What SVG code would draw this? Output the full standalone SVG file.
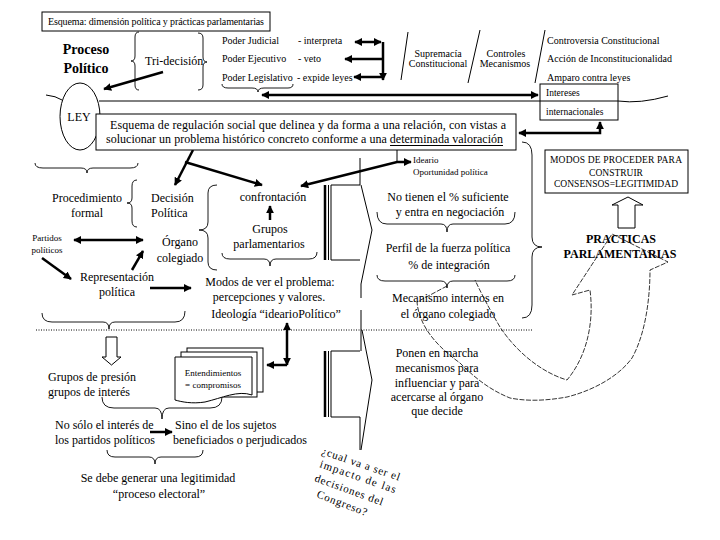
<svg xmlns="http://www.w3.org/2000/svg" width="720" height="540" viewBox="0 0 720 540">
<defs>
<style>
.f{font-family:'Liberation Serif','Times New Roman',serif}
text{fill:#000}
.s9{font-size:9px}.s95{font-size:9.5px}.s10{font-size:10px}.s11{font-size:11px}.s12{font-size:12px}.s14{font-size:14px}.b{font-weight:bold}
.m{text-anchor:middle}
.ln{fill:none;stroke:#000;stroke-width:1}
.br{fill:none;stroke:#000;stroke-width:0.9}
.th{fill:none;stroke:#000;stroke-width:2.5}
.bx{fill:#fff;stroke:#000;stroke-width:1}
.dash{fill:none;stroke:#000;stroke-width:0.8;stroke-dasharray:5 1.5}
.dot{fill:none;stroke:#000;stroke-width:1;stroke-dasharray:1 1.5}
</style>
<marker id="ah" viewBox="0 0 10 10" refX="9" refY="5" markerWidth="3.2" markerHeight="3.2" orient="auto-start-reverse"><path d="M0,0 L10,5 L0,10 z" fill="#000"/></marker>
</defs>
<rect width="720" height="540" fill="#fff"/>

<g id="braces">
<path class="br" d="M139,32 Q135,32 135,37 V56 Q135,61 131,61 Q135,61 135,66 V85 Q135,90 139,90"/>
<path class="br" d="M198,33 Q203,33 203,38 V57 Q203,62 207,62 Q203,62 203,67 V85 Q203,90 198,90"/>
<path class="br" d="M222,84 Q222,88 228,88 H252 Q258,88 258,92 Q258,88 264,88 H288 Q293,88 293,84"/>
<path class="br" d="M35,163 Q35,168 43,168 H81 Q87,168 87,173 Q87,168 93,168 H130 Q138,168 138,163"/>
<path class="br" d="M137,180 Q132,180 132,186 V198 Q132,203 127,203 Q132,203 132,208 V221 Q132,227 137,227"/>
<path class="br" d="M217,185 Q208,185 208,193 V222 Q208,230 199,230 Q208,230 208,238 V262 Q208,270 217,270"/>
<path class="br" d="M42,313 Q42,322 52,322 H103 Q109,322 109,329 Q109,322 115,322 H175 Q185,322 185,311"/>
<path class="br" d="M222,253 Q222,259 230,259 H264 Q270,259 270,266 Q270,259 276,259 H309 Q317,259 317,252"/>
<path class="br" d="M377,212 Q377,224 387,224 H441 Q447,224 447,232 Q447,224 453,224 H505 Q515,224 515,212"/>
<path class="br" d="M377,275 Q377,281 385,281 H441 Q447,281 447,288 Q447,281 453,281 H507 Q515,281 515,275"/>
<path class="br" d="M522,142 Q532,142 532,155 V237 Q532,247 542,247 Q532,247 532,257 V305 Q532,318 522,318"/>
<path class="br" d="M102,397 Q102,408 114,408 H155 Q162,408 162,419 Q162,408 169,408 H210 Q222,408 222,397"/>
<path class="br" d="M107,450 Q107,457 115,457 H149 Q155,457 155,464 Q155,457 161,457 H195 Q203,457 203,450"/>
</g>

<g id="lines">
<path class="ln" d="M46,95 Q56,96 62,100"/>
<path class="ln" d="M99,101 H540"/>
<path class="ln" d="M618,101 Q640,104 668,96"/>
<path class="ln" d="M408,32 L401,80"/>
<path class="ln" d="M480,30 L468,83"/>
<path class="ln" d="M545,30 L535,83"/>
<path class="ln" d="M397,150 V162"/>
<path class="ln" d="M360,158 V185 M361,185 L372,230 L361,284 V298 M361,310 V351 M362,330 L372,380 L361,450 M360,417 V450"/>
<path class="dot" d="M36,330 H533"/>
<path class="dash" d="M447,286 L417,302 C419,325 435,345 460,363 C475,378 490,390 510,398 C530,402 550,400 567,397 C595,390 620,375 632,358 C645,335 650,300 650,270 L668,262 L612,234 L572,295 L590,290 C594,320 588,355 567,380 C540,372 515,350 500,327 C490,310 482,295 475,280"/>
</g>

<g id="connectors">
<path class="th" d="M163,72 L104,89" marker-end="url(#ah)"/>
<path class="th" d="M262,95 H538" marker-start="url(#ah)" marker-end="url(#ah)"/>
<path class="th" d="M600,122 V133 H519" marker-start="url(#ah)" marker-end="url(#ah)"/>
<path class="th" d="M193,150 L175,185" marker-end="url(#ah)"/>
<path class="th" d="M185,162 L262,185" marker-end="url(#ah)"/>
<path class="th" d="M301,186 L397,162 H411" marker-start="url(#ah)" marker-end="url(#ah)"/>
<path class="th" d="M74,240 H143" marker-start="url(#ah)" marker-end="url(#ah)"/>
<path class="th" d="M42,258 L71,279" marker-end="url(#ah)"/>
<path class="th" d="M132,270 L143,251" marker-end="url(#ah)"/>
<path class="th" d="M150,288 H191" marker-end="url(#ah)"/>
<path class="th" d="M270,220 V206" marker-end="url(#ah)"/>
<path class="th" d="M287,323 V365" marker-start="url(#ah)" marker-end="url(#ah)"/>
<path class="th" d="M287,365 H267" marker-end="url(#ah)"/>
<path class="th" d="M150,432 H172" marker-end="url(#ah)"/>
<path class="th" d="M355,42 H381" marker-start="url(#ah)" marker-end="url(#ah)"/>
<path class="th" d="M345,59 H383" marker-start="url(#ah)"/>
<path class="th" d="M354,77 H383" marker-start="url(#ah)"/>
<path class="th" d="M383,42 V80" marker-end="url(#ah)"/>
</g>

<g class="f" font-family="Liberation Serif, Times New Roman, serif">
<g id="title">
<rect class="bx" x="42" y="12" width="228" height="19"/>
<text class="s10" x="48" y="25" textLength="216">Esquema: dimensión política y prácticas parlamentarias</text>
</g>

<g id="proceso">
<text class="s14 b m" x="86" y="54">Proceso</text>
<text class="s14 b m" x="86" y="73">Político</text>
</g>

<g id="tridecision"><text class="s12" x="145" y="65">Tri-decisión</text></g>

<g id="poderes">
<text class="s10" x="222" y="43.5">Poder Judicial</text>
<text class="s10" x="222" y="61.5">Poder Ejecutivo</text>
<text class="s10" x="222" y="80.5">Poder Legislativo</text>
<text class="s10" x="298" y="43.5">- interpreta</text>
<text class="s10" x="298" y="61.5">- veto</text>
<text class="s10" x="297" y="80.5">- expide leyes</text>
</g>

<g id="supremacia">
<text class="s10 m" x="438" y="56.5">Supremacía</text>
<text class="s10 m" x="438" y="66.5">Constitucional</text>
</g>
<g id="controles">
<text class="s10 m" x="506" y="56.5">Controles</text>
<text class="s10 m" x="505" y="66.5">Mecanismos</text>
</g>
<g id="medios">
<text class="s10" x="547" y="43.5">Controversia Constitucional</text>
<text class="s10" x="547" y="61.5">Acción de Inconstitucionalidad</text>
<text class="s10" x="547" y="80.5">Amparo contra leyes</text>
</g>

<g id="intereses">
<rect class="bx" x="540" y="84" width="78" height="36"/>
<path class="ln" d="M540,101 H618"/>
<text class="s95" x="546" y="96">Intereses</text>
<text class="s95" x="546" y="115">internacionales</text>
</g>

<g id="ley">
<ellipse class="ln" cx="80" cy="116.5" rx="20" ry="33.5"/>
<text class="s12 m" x="79" y="121">LEY</text>
</g>

<g id="esquema">
<rect class="bx" x="96" y="114" width="420" height="36"/>
<text class="s12" x="110" y="129" textLength="396">Esquema de regulación social que delinea y da forma a una relación, con vistas a</text>
<text class="s12" x="106" y="143" textLength="397">solucionar un problema histórico concreto conforme a una determinada valoración</text>
<path class="ln" d="M390,145.5 H503"/>
</g>

<g id="ideario">
<text class="s9" x="413" y="163">Ideario</text>
<text class="s9" x="413" y="175">Oportunidad política</text>
</g>

<g id="procedimiento">
<text class="s12 m" x="87" y="202">Procedimiento</text>
<text class="s12 m" x="87" y="217">formal</text>
</g>
<g id="decision">
<text class="s12" x="151" y="202">Decisión</text>
<text class="s12" x="151" y="217">Política</text>
</g>
<g id="organo">
<text class="s12 m" x="180" y="246">Órgano</text>
<text class="s12 m" x="180" y="262">colegiado</text>
</g>
<g id="partidos">
<text class="s9 m" x="47" y="241">Partidos</text>
<text class="s9 m" x="47" y="253">políticos</text>
</g>
<g id="representacion">
<text class="s12 m" x="117" y="281">Representación</text>
<text class="s12 m" x="117" y="296">política</text>
</g>
<g id="confrontacion"><text class="s12 m" x="273" y="201">confrontación</text></g>
<g id="grupos-parl">
<text class="s12 m" x="270" y="233">Grupos</text>
<text class="s12 m" x="269" y="248">parlamentarios</text>
</g>
<g id="modos-ver">
<text class="s12 m" x="270" y="286">Modos de ver el problema:</text>
<text class="s12 m" x="269" y="301">percepciones y valores.</text>
<text class="s12 m" x="276" y="318">Ideología “idearioPolítico”</text>
</g>

<g id="libros">
<path class="ln" d="M360,185 H331 M360,260 H331 M331,185 V260 M328.5,185 V260"/>
<path d="M325,185 V260" fill="none" stroke="#000" stroke-width="2.5"/>
<path class="ln" d="M360,351 H331 M360,417 H331 M331,351 V417 M328.5,351 V417"/>
<path d="M325,351 V417" fill="none" stroke="#000" stroke-width="2.5"/>
</g>

<g id="no-tienen">
<text class="s12 m" x="448" y="201">No tienen el % suficiente</text>
<text class="s12 m" x="450" y="216">y entra en negociación</text>
</g>
<g id="perfil">
<text class="s12 m" x="448" y="252">Perfil de la fuerza política</text>
<text class="s12 m" x="449" y="269">% de integración</text>
</g>
<g id="mecanismo">
<text class="s12 m" x="448" y="302">Mecanismo internos en</text>
<text class="s12 m" x="448" y="318">el órgano colegiado</text>
</g>

<g id="modos-proceder">
<rect class="bx" x="545" y="150" width="143" height="43"/>
<text class="s95 m" x="616" y="163" textLength="132">MODOS DE PROCEDER PARA</text>
<text class="s95 m" x="616" y="176">CONSTRUIR</text>
<text class="s95 m" x="616" y="187" textLength="124">CONSENSOS=LEGITIMIDAD</text>
</g>
<g id="flecha-arriba"><path class="bx" d="M618,228 V205 H612 L628,197 L643,205 H635 V228 Z"/></g>
<g id="practicas">
<text class="s12 b m" x="621" y="243">PRACTICAS</text>
<text class="s12 b m" x="620" y="258">PARLAMENTARIAS</text>
</g>

<g id="flecha-abajo"><path class="bx" d="M106,337 H117 V357 H121 L111.5,365 L102,357 H106 Z"/></g>
<g id="grupos-presion">
<text class="s12" x="48" y="381">Grupos de presión</text>
<text class="s12" x="48" y="396">grupos de interés</text>
</g>
<g id="entendimientos">
<rect class="bx" x="187" y="348" width="76" height="44"/>
<rect class="bx" x="181" y="352" width="76" height="45"/>
<path class="bx" d="M175,357 H252 V395 C238,390 222,398 205,402 C192,404 182,402 175,400 Z"/>
<text class="s9 m" x="213" y="376">Entendimientos</text>
<text class="s9 m" x="213" y="388">= compromisos</text>
</g>
<g id="no-solo">
<text class="s12" x="55" y="429">No sólo el interés de</text>
<text class="s12" x="55" y="444">los partidos políticos</text>
</g>
<g id="sino">
<text class="s12" x="175" y="429">Sino el de los sujetos</text>
<text class="s12" x="173" y="444">beneficiados o perjudicados</text>
</g>
<g id="legitimidad">
<text class="s12 m" x="158" y="482">Se debe generar una legitimidad</text>
<text class="s12 m" x="159" y="498">“proceso electoral”</text>
</g>
<g id="ponen">
<text class="s12 m" x="437" y="357">Ponen en marcha</text>
<text class="s12 m" x="437" y="372">mecanismos para</text>
<text class="s12 m" x="437" y="387">influenciar y para</text>
<text class="s12 m" x="437" y="401">acercarse al órgano</text>
<text class="s12 m" x="437" y="415">que decide</text>
</g>
<g id="pregunta">
<text class="s11" transform="translate(321,454) rotate(19)" textLength="82">¿cual va a ser el</text>
<text class="s11" transform="translate(319,467) rotate(19)" textLength="80">impacto de las</text>
<text class="s11" transform="translate(314,481) rotate(20)" textLength="72">decisiones del</text>
<text class="s11" transform="translate(316,497) rotate(21)" textLength="53">Congreso?</text>
</g>
</g>
</svg>
